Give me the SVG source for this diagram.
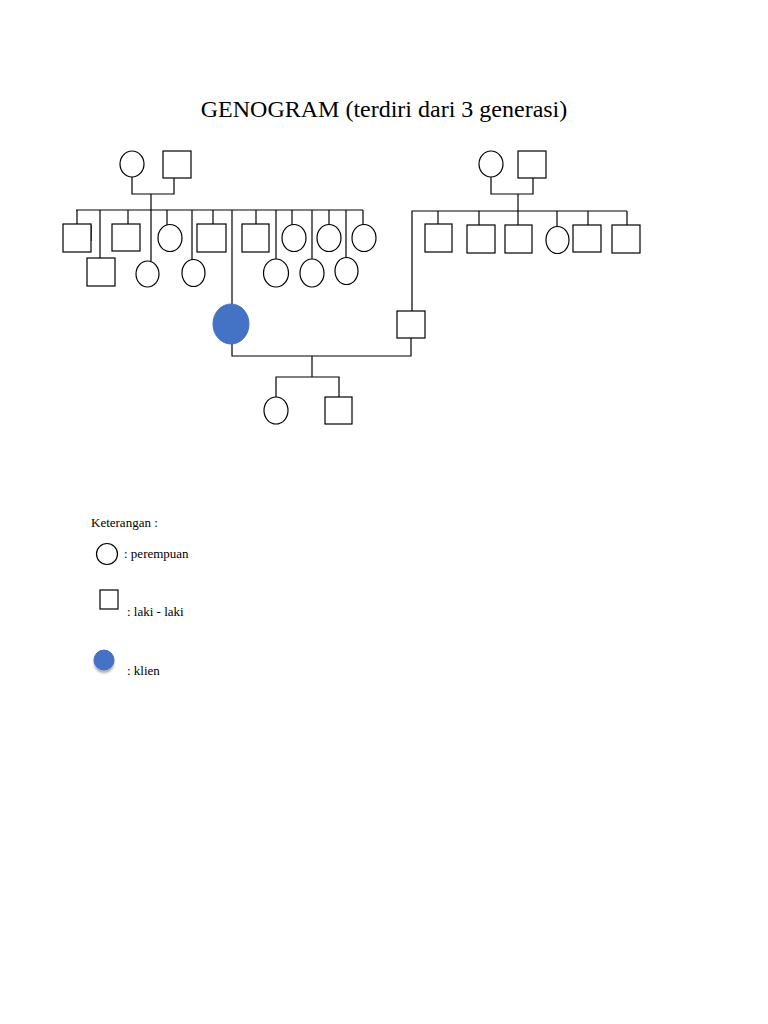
<svg xmlns="http://www.w3.org/2000/svg" width="768" height="1024" viewBox="0 0 768 1024">
<defs>
<style>
.n{fill:#fff;stroke:#000;stroke-width:1.2}
.c{fill:#4472c4;stroke:#4472c4}
#connectors line,#connectors polyline{stroke:#000;stroke-width:1.2;fill:none}
text{font-family:"Liberation Serif",serif;fill:#000}
</style>
<radialGradient id="sh" cx="0.5" cy="0.5" r="0.5"><stop offset="0.7" stop-color="#bbb"/><stop offset="1" stop-color="#fff" stop-opacity="0"/></radialGradient>
</defs>
<rect width="768" height="1024" fill="#fff"/>
<text x="384" y="117" font-size="24" text-anchor="middle">GENOGRAM (terdiri dari 3 generasi)</text>
<g id="connectors">
<polyline points="132,177 132,194 174,194 174,178"/>
<line x1="151" y1="194" x2="151" y2="261"/>
<line x1="76" y1="210" x2="363" y2="210"/>
<line x1="77" y1="210" x2="77" y2="224"/>
<line x1="91" y1="225" x2="91" y2="241"/>
<line x1="100" y1="210" x2="100" y2="258"/>
<line x1="128" y1="210" x2="128" y2="224"/>
<line x1="167" y1="210" x2="167" y2="225"/>
<line x1="192" y1="210" x2="192" y2="260"/>
<line x1="213" y1="210" x2="213" y2="224"/>
<line x1="232" y1="210" x2="232" y2="304"/>
<line x1="256" y1="210" x2="256" y2="224"/>
<line x1="276" y1="210" x2="276" y2="259"/>
<line x1="292" y1="210" x2="292" y2="225"/>
<line x1="312" y1="210" x2="312" y2="259"/>
<line x1="329" y1="210" x2="329" y2="225"/>
<line x1="346" y1="210" x2="346" y2="258"/>
<line x1="363" y1="210" x2="363" y2="225"/>
<polyline points="491,177 491,194 533,194 533,178"/>
<line x1="518" y1="194" x2="518" y2="211"/>
<polyline points="412,311 412,211 627,211"/>
<line x1="438" y1="211" x2="438" y2="224"/>
<line x1="479" y1="211" x2="479" y2="225"/>
<line x1="518" y1="211" x2="518" y2="225"/>
<line x1="557" y1="211" x2="557" y2="226"/>
<line x1="588" y1="211" x2="588" y2="225"/>
<line x1="627" y1="211" x2="627" y2="225"/>
<polyline points="232,344 232,356 411,356 411,338"/>
<line x1="312" y1="356" x2="312" y2="377"/>
<polyline points="276,397 276,377 339,377 339,397"/>
</g>
<g id="gp1-f"><ellipse class="n" cx="132" cy="164" rx="12" ry="13"/></g>
<g id="gp1-m"><rect class="n" x="163" y="151" width="28" height="27"/></g>
<g id="gp2-f"><ellipse class="n" cx="491" cy="164" rx="12" ry="13"/></g>
<g id="gp2-m"><rect class="n" x="518" y="151" width="28" height="27"/></g>
<g id="a1"><rect class="n" x="63" y="224" width="28" height="28"/></g>
<g id="a2"><rect class="n" x="87" y="258" width="28" height="28"/></g>
<g id="a3"><rect class="n" x="112" y="224" width="28" height="27"/></g>
<g id="a4"><ellipse class="n" cx="147.5" cy="274" rx="11.5" ry="13"/></g>
<g id="a5"><ellipse class="n" cx="170" cy="238" rx="12" ry="13.5"/></g>
<g id="a6"><ellipse class="n" cx="193.5" cy="273" rx="11.5" ry="13.5"/></g>
<g id="a7"><rect class="n" x="197" y="224" width="29" height="28"/></g>
<g id="a8"><rect class="n" x="242" y="224" width="27" height="28"/></g>
<g id="a9"><ellipse class="n" cx="276" cy="273" rx="12.5" ry="14"/></g>
<g id="a10"><ellipse class="n" cx="294" cy="238" rx="12" ry="13.5"/></g>
<g id="a11"><ellipse class="n" cx="312" cy="273" rx="12" ry="14"/></g>
<g id="a12"><ellipse class="n" cx="329" cy="238" rx="12" ry="13.5"/></g>
<g id="a13"><ellipse class="n" cx="346.5" cy="271" rx="11.5" ry="13.5"/></g>
<g id="a14"><ellipse class="n" cx="364" cy="238" rx="12" ry="13.5"/></g>
<g id="b1"><rect class="n" x="425" y="224" width="27" height="28"/></g>
<g id="b2"><rect class="n" x="467" y="225" width="28" height="28"/></g>
<g id="b3"><rect class="n" x="505" y="225" width="27" height="28"/></g>
<g id="b4"><ellipse class="n" cx="557.5" cy="240" rx="11.5" ry="13.5"/></g>
<g id="b5"><rect class="n" x="573" y="225" width="28" height="27"/></g>
<g id="b6"><rect class="n" x="612" y="225" width="28" height="28"/></g>
<g id="client"><ellipse class="c" cx="231" cy="324" rx="18" ry="20"/></g>
<g id="husband"><rect class="n" x="397" y="311" width="28" height="27"/></g>
<g id="child1"><ellipse class="n" cx="276" cy="410.5" rx="12" ry="13.5"/></g>
<g id="child2"><rect class="n" x="325" y="397" width="27" height="27"/></g>
<g id="legend">
<text x="91" y="527" font-size="13">Keterangan :</text>
<ellipse class="n" cx="107" cy="554" rx="10.5" ry="10.5"/>
<text x="124" y="558" font-size="13">: perempuan</text>
<rect class="n" x="100" y="590" width="18" height="19"/>
<text x="127" y="616" font-size="13">: laki - laki</text>
<ellipse cx="104" cy="663" rx="13" ry="13" fill="url(#sh)"/>
<ellipse class="c" cx="104" cy="660" rx="10" ry="10"/>
<text x="127" y="675" font-size="13">: klien</text>
</g>
</svg>
